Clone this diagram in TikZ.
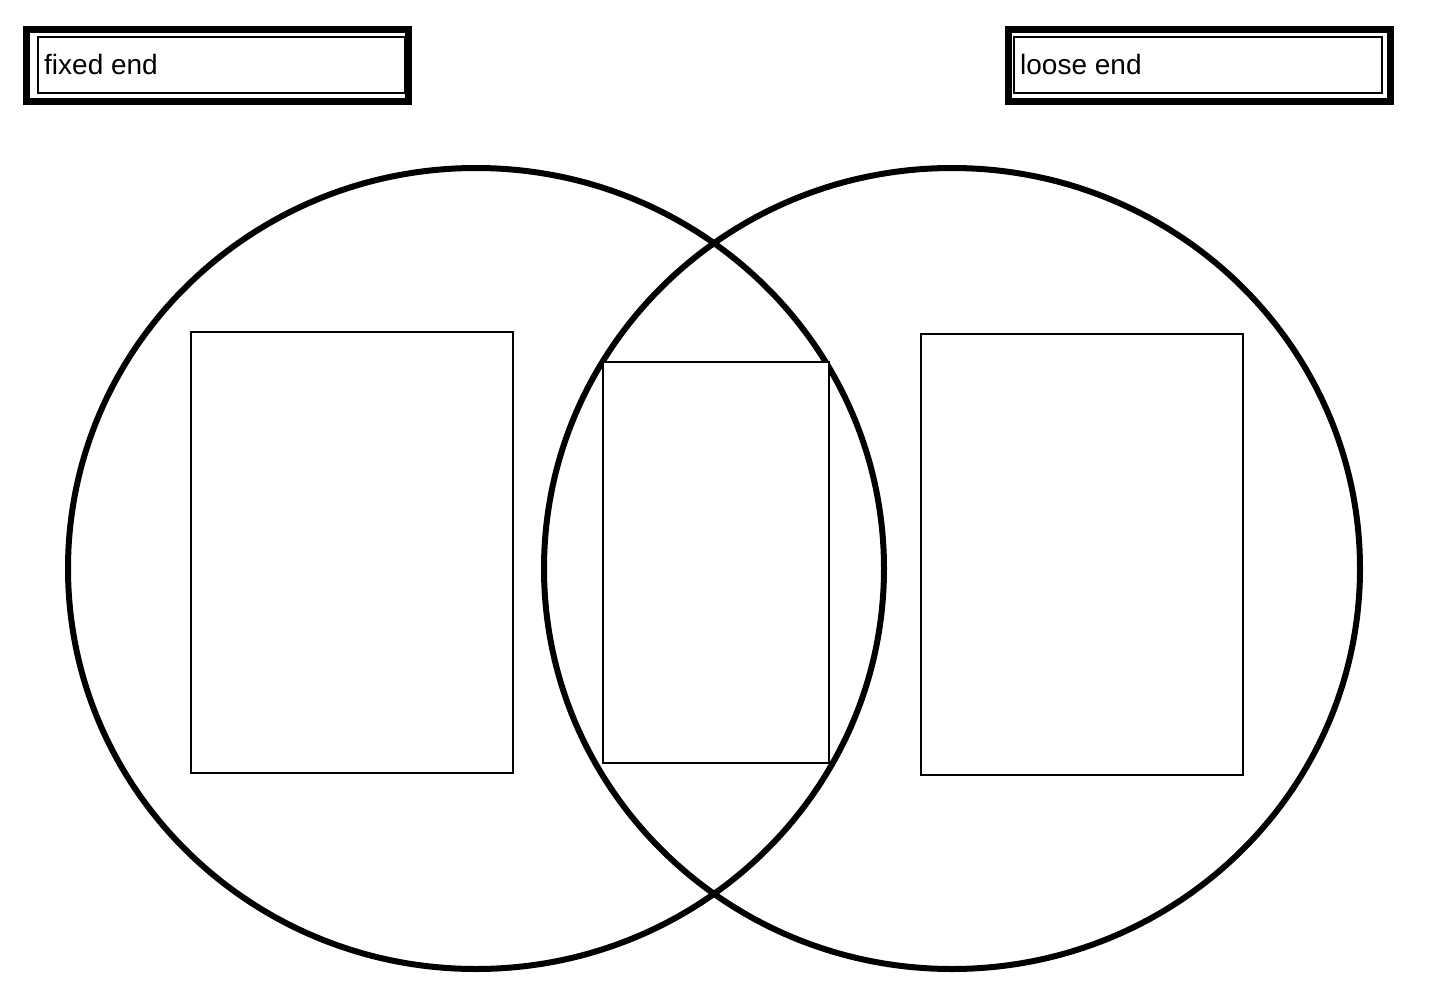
\documentclass[tikz,border=0pt]{standalone}
\usepackage{fontspec}
\setmainfont{Liberation Sans}
\begin{document}
\begin{tikzpicture}[x=1pt,y=-1pt,
  outerbox/.style={draw=black,line width=7pt},
  innerbox/.style={draw=black,line width=2pt},
  venn/.style={draw=black,line width=6pt},
  textbox/.style={draw=black,line width=1.6pt},
  lbl/.style={anchor=base west,font=\fontsize{28}{33}\selectfont,inner sep=0pt}]
\useasboundingbox (0,0) rectangle (1452,988);
% title boxes
\draw[outerbox] (26,29) rectangle (408,101);
\draw[innerbox] (38,37) rectangle (405,93);
\node[lbl] (fixed) at (44,74) {fixed end};
\draw[outerbox] (1008,29) rectangle (1390,101);
\draw[innerbox] (1014,37) rectangle (1382,93);
\node[lbl] (loose) at (1020,74) {loose end};
% circles
\draw[venn] (476,568.5) ellipse [x radius=408, y radius=400.5];
\draw[venn] (952,568.5) ellipse [x radius=408, y radius=400.5];
% inner boxes
\draw[textbox,fill=white] (191,332) rectangle (513,773);
\draw[textbox,fill=white] (603,362) rectangle (829,763);
\draw[textbox,fill=white] (921,334) rectangle (1243,775);
\end{tikzpicture}
\end{document}
